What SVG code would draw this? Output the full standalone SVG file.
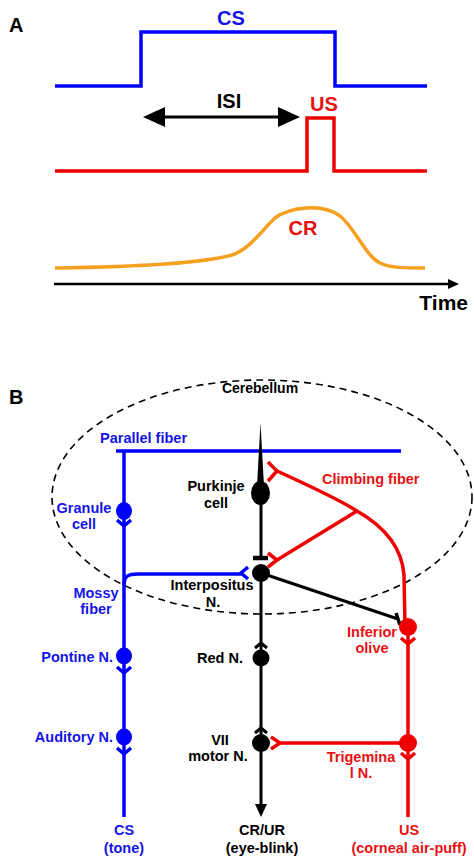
<svg xmlns="http://www.w3.org/2000/svg" width="474" height="863" viewBox="0 0 474 863">
<defs>
<style>
.t{font-family:"Liberation Sans",Arial,sans-serif;font-weight:bold}
.big{font-size:20px}
.sm{font-size:14.5px}
.bl{fill:#1414e6}
.rd{fill:#e81010}
.bk{fill:#000}
.lb{stroke:#0000ff;stroke-width:3.5;fill:none}
.lr{stroke:#f00000;stroke-width:3.5;fill:none}
.lk{stroke:#000;stroke-width:3;fill:none}
</style>
</defs>
<rect width="474" height="863" fill="#fff"/>

<!-- Panel A -->
<g id="panelA">
<text class="t big bk" x="9" y="32">A</text>
<g id="cs-trace">
<path class="lb" d="M55,86 H141 V32 H335 V86 H427"/>
<text class="t big bl" x="231" y="25" text-anchor="middle">CS</text>
</g>
<g id="us-trace">
<path class="lr" d="M55,171 H307 V118 H334 V171 H427"/>
<text class="t big rd" x="324" y="111" text-anchor="middle">US</text>
</g>
<g id="isi">
<line x1="160" y1="117" x2="284" y2="117" stroke="#000" stroke-width="3"/>
<polygon points="143,117 165,107 165,127" fill="#000"/>
<polygon points="300,117 278,107 278,127" fill="#000"/>
<text class="t big bk" x="229" y="108" text-anchor="middle">ISI</text>
</g>
<g id="cr-trace">
<path d="M55,268 C120,267 200,264 232,255 C250,249 262,230 275,218 C290,207 322,203 340,216 C355,228 365,255 380,263 C390,268 405,268 425,268" stroke="#f5a01e" stroke-width="3.5" fill="none"/>
<text class="t big rd" x="303" y="235" text-anchor="middle">CR</text>
</g>
<g id="time-axis">
<line x1="54" y1="284" x2="450" y2="284" stroke="#000" stroke-width="2.5"/>
<polygon points="459,284 448,279 448,289" fill="#000"/>
<text class="t bk" style="font-size:21px" x="468" y="310" text-anchor="end">Time</text>
</g>
</g>

<!-- Panel B -->
<text class="t big bk" x="9" y="404">B</text>
<g id="cerebellum">
<ellipse cx="262" cy="497" rx="210" ry="117" fill="none" stroke="#000" stroke-width="1.6" stroke-dasharray="7,5"/>
<text class="t bk" style="font-size:14px" x="260" y="393" text-anchor="middle">Cerebellum</text>
</g>

<g id="connectors">
<!-- blue pathway -->
<path class="lb" d="M116,451 H401"/>
<path class="lb" d="M124,451 V817"/>
<path class="lb" d="M124,585 C124,576 128,574 138,574 H241"/>
<path class="lb" stroke-width="3" d="M248,567 L241,573 L248,579"/>
<path class="lb" stroke-width="3" d="M117,520 L124,526 L131,520"/>
<path class="lb" stroke-width="3" d="M117,667 L124,673 L131,667"/>
<path class="lb" stroke-width="3" d="M117,748 L124,754 L131,748"/>
<!-- black pathway -->
<polygon points="260.5,423 264,486 257,486" fill="#000"/>
<line class="lk" x1="261" y1="493" x2="261" y2="556"/>
<line x1="253" y1="558" x2="268" y2="558" stroke="#000" stroke-width="4.5"/>
<line class="lk" x1="261" y1="573" x2="261" y2="806"/>
<polygon points="261,817 255,804 267,804" fill="#000"/>
<path class="lk" stroke-width="2.5" d="M255,648 L261,643 L267,648"/>
<path class="lk" stroke-width="2.5" d="M255,733 L261,728 L267,733"/>
<line class="lk" x1="261" y1="573" x2="398" y2="619"/>
<line x1="396" y1="613" x2="400" y2="625" stroke="#000" stroke-width="3.5"/>
<!-- red pathway -->
<path class="lr" d="M277,471 C310,486 340,500 357,511 C385,527 402,548 404,575 L405,626"/>
<path class="lr" d="M357,511 L277,560"/>
<path class="lr" stroke-width="3" d="M268,462 L277,471 L268,481"/>
<path class="lr" stroke-width="3" d="M268,553 L277,560 L268,567"/>
<path class="lr" d="M408,626 V817"/>
<path class="lr" d="M408,743 H280"/>
<path class="lr" stroke-width="3" d="M271,737 L280,743 L271,749"/>
<path class="lr" stroke-width="3" d="M401,638 L408,644 L415,638"/>
<path class="lr" stroke-width="3" d="M401,753 L408,759 L415,753"/>
</g>

<g id="parallel-fiber"><text class="t sm bl" x="100" y="443">Parallel fiber</text></g>
<g id="granule-cell">
<ellipse cx="124" cy="511" rx="8" ry="9" fill="#0000ff"/>
<text class="t sm bl" x="84" y="513" text-anchor="middle">Granule</text>
<text class="t sm bl" x="84" y="529" text-anchor="middle">cell</text>
</g>
<g id="mossy-fiber">
<text class="t sm bl" x="96" y="598" text-anchor="middle">Mossy</text>
<text class="t sm bl" x="96" y="614" text-anchor="middle">fiber</text>
</g>
<g id="pontine">
<ellipse cx="124" cy="656" rx="8" ry="8.5" fill="#0000ff"/>
<text class="t sm bl" x="113" y="662" text-anchor="end">Pontine N.</text>
</g>
<g id="auditory">
<ellipse cx="124" cy="737" rx="8" ry="8.5" fill="#0000ff"/>
<text class="t sm bl" x="113" y="742" text-anchor="end">Auditory N.</text>
</g>
<g id="cs-input">
<text class="t sm bl" x="124" y="835" text-anchor="middle">CS</text>
<text class="t sm bl" x="124" y="853" text-anchor="middle">(tone)</text>
</g>

<g id="purkinje">
<ellipse cx="260.5" cy="493" rx="9.5" ry="12" fill="#000"/>
<text class="t sm bk" x="216" y="491" text-anchor="middle">Purkinje</text>
<text class="t sm bk" x="216" y="508" text-anchor="middle">cell</text>
</g>
<g id="interpositus">
<circle cx="261" cy="573" r="9" fill="#000"/>
<text class="t sm bk" x="212" y="590" text-anchor="middle">Interpositus</text>
<text class="t sm bk" x="213" y="607" text-anchor="middle">N.</text>
</g>
<g id="red-n">
<circle cx="261" cy="658" r="8.5" fill="#000"/>
<text class="t sm bk" x="243" y="663" text-anchor="end">Red N.</text>
</g>
<g id="vii-motor">
<circle cx="261" cy="743" r="9" fill="#000"/>
<text class="t sm bk" x="220" y="745" text-anchor="middle">VII</text>
<text class="t sm bk" x="218" y="761" text-anchor="middle">motor N.</text>
</g>
<g id="cr-output">
<text class="t sm bk" x="262" y="835" text-anchor="middle">CR/UR</text>
<text class="t sm bk" x="262" y="853" text-anchor="middle">(eye-blink)</text>
</g>

<g id="climbing-fiber"><text class="t sm rd" x="322" y="484">Climbing fiber</text></g>
<g id="inferior-olive">
<circle cx="408" cy="627" r="9" fill="#f00000"/>
<text class="t sm rd" x="372" y="637" text-anchor="middle">Inferior</text>
<text class="t sm rd" x="372" y="653" text-anchor="middle">olive</text>
</g>
<g id="trigeminal">
<circle cx="408" cy="743" r="9" fill="#f00000"/>
<text class="t sm rd" x="361" y="762" text-anchor="middle">Trigemina</text>
<text class="t sm rd" x="361" y="778" text-anchor="middle">l N.</text>
</g>
<g id="us-input">
<text class="t sm rd" x="409" y="835" text-anchor="middle">US</text>
<text class="t sm rd" x="409" y="853" text-anchor="middle">(corneal air-puff)</text>
</g>
</svg>
